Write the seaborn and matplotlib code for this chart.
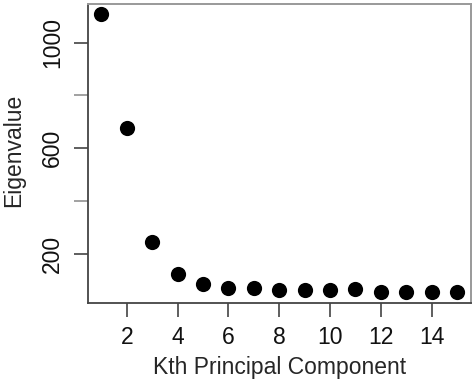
import numpy as np
import pandas as pd
import matplotlib
matplotlib.use("Agg")
import matplotlib.pyplot as plt
import seaborn as sns

# valeurs
composante = list(range(1, 16))
valeur_propre = [1107, 675, 245, 122, 87, 72, 72, 63, 63, 63, 65, 55, 55, 56, 56]
ticks_x = [2, 4, 6, 8, 10, 12, 14]
ticks_y = [200, 600, 1000]

donnees = pd.DataFrame({"k": composante, "eigen": valeur_propre})

sns.set_style("ticks")
plt.rcParams['font.family'] = ['Liberation Sans', 'DejaVu Sans']

fig = plt.figure(figsize=(4.74, 3.84), dpi=100)
ax = fig.add_axes([0.185, 0.212, 0.808, 0.778])

sns.scatterplot(data=donnees, x="k", y="eigen", ax=ax, s=120,
                color="black", edgecolor="black", linewidth=0, legend=False)

ax.set_xlim(0.46, 15.54)
ax.set_ylim(15, 1147)
ax.set_xticks(ticks_x)
ax.set_yticks(ticks_y)
ax.set_yticks([400, 800], minor=True)
ax.set_yticklabels([str(t) for t in ticks_y], rotation=90, va="center")
ax.tick_params(axis="both", which="both", direction="out", length=10,
               width=1.1, color="#333333", labelsize=16.5, pad=7,
               labelcolor="#111111")
ax.tick_params(axis="y", which="minor", color="#888888")

for cote in ["top", "right"]:
    ax.spines[cote].set_color("#999999")
    ax.spines[cote].set_linewidth(1.4)
for cote in ["left", "bottom"]:
    ax.spines[cote].set_color("#444444")
    ax.spines[cote].set_linewidth(1.3)

ax.set_xlabel("Kth Principal Component", fontsize=16.5, labelpad=5)
ax.set_ylabel("Eigenvalue", fontsize=16.5)
ax.yaxis.set_label_coords(-0.163, 0.51)

fig.savefig("out.png", dpi=100)
